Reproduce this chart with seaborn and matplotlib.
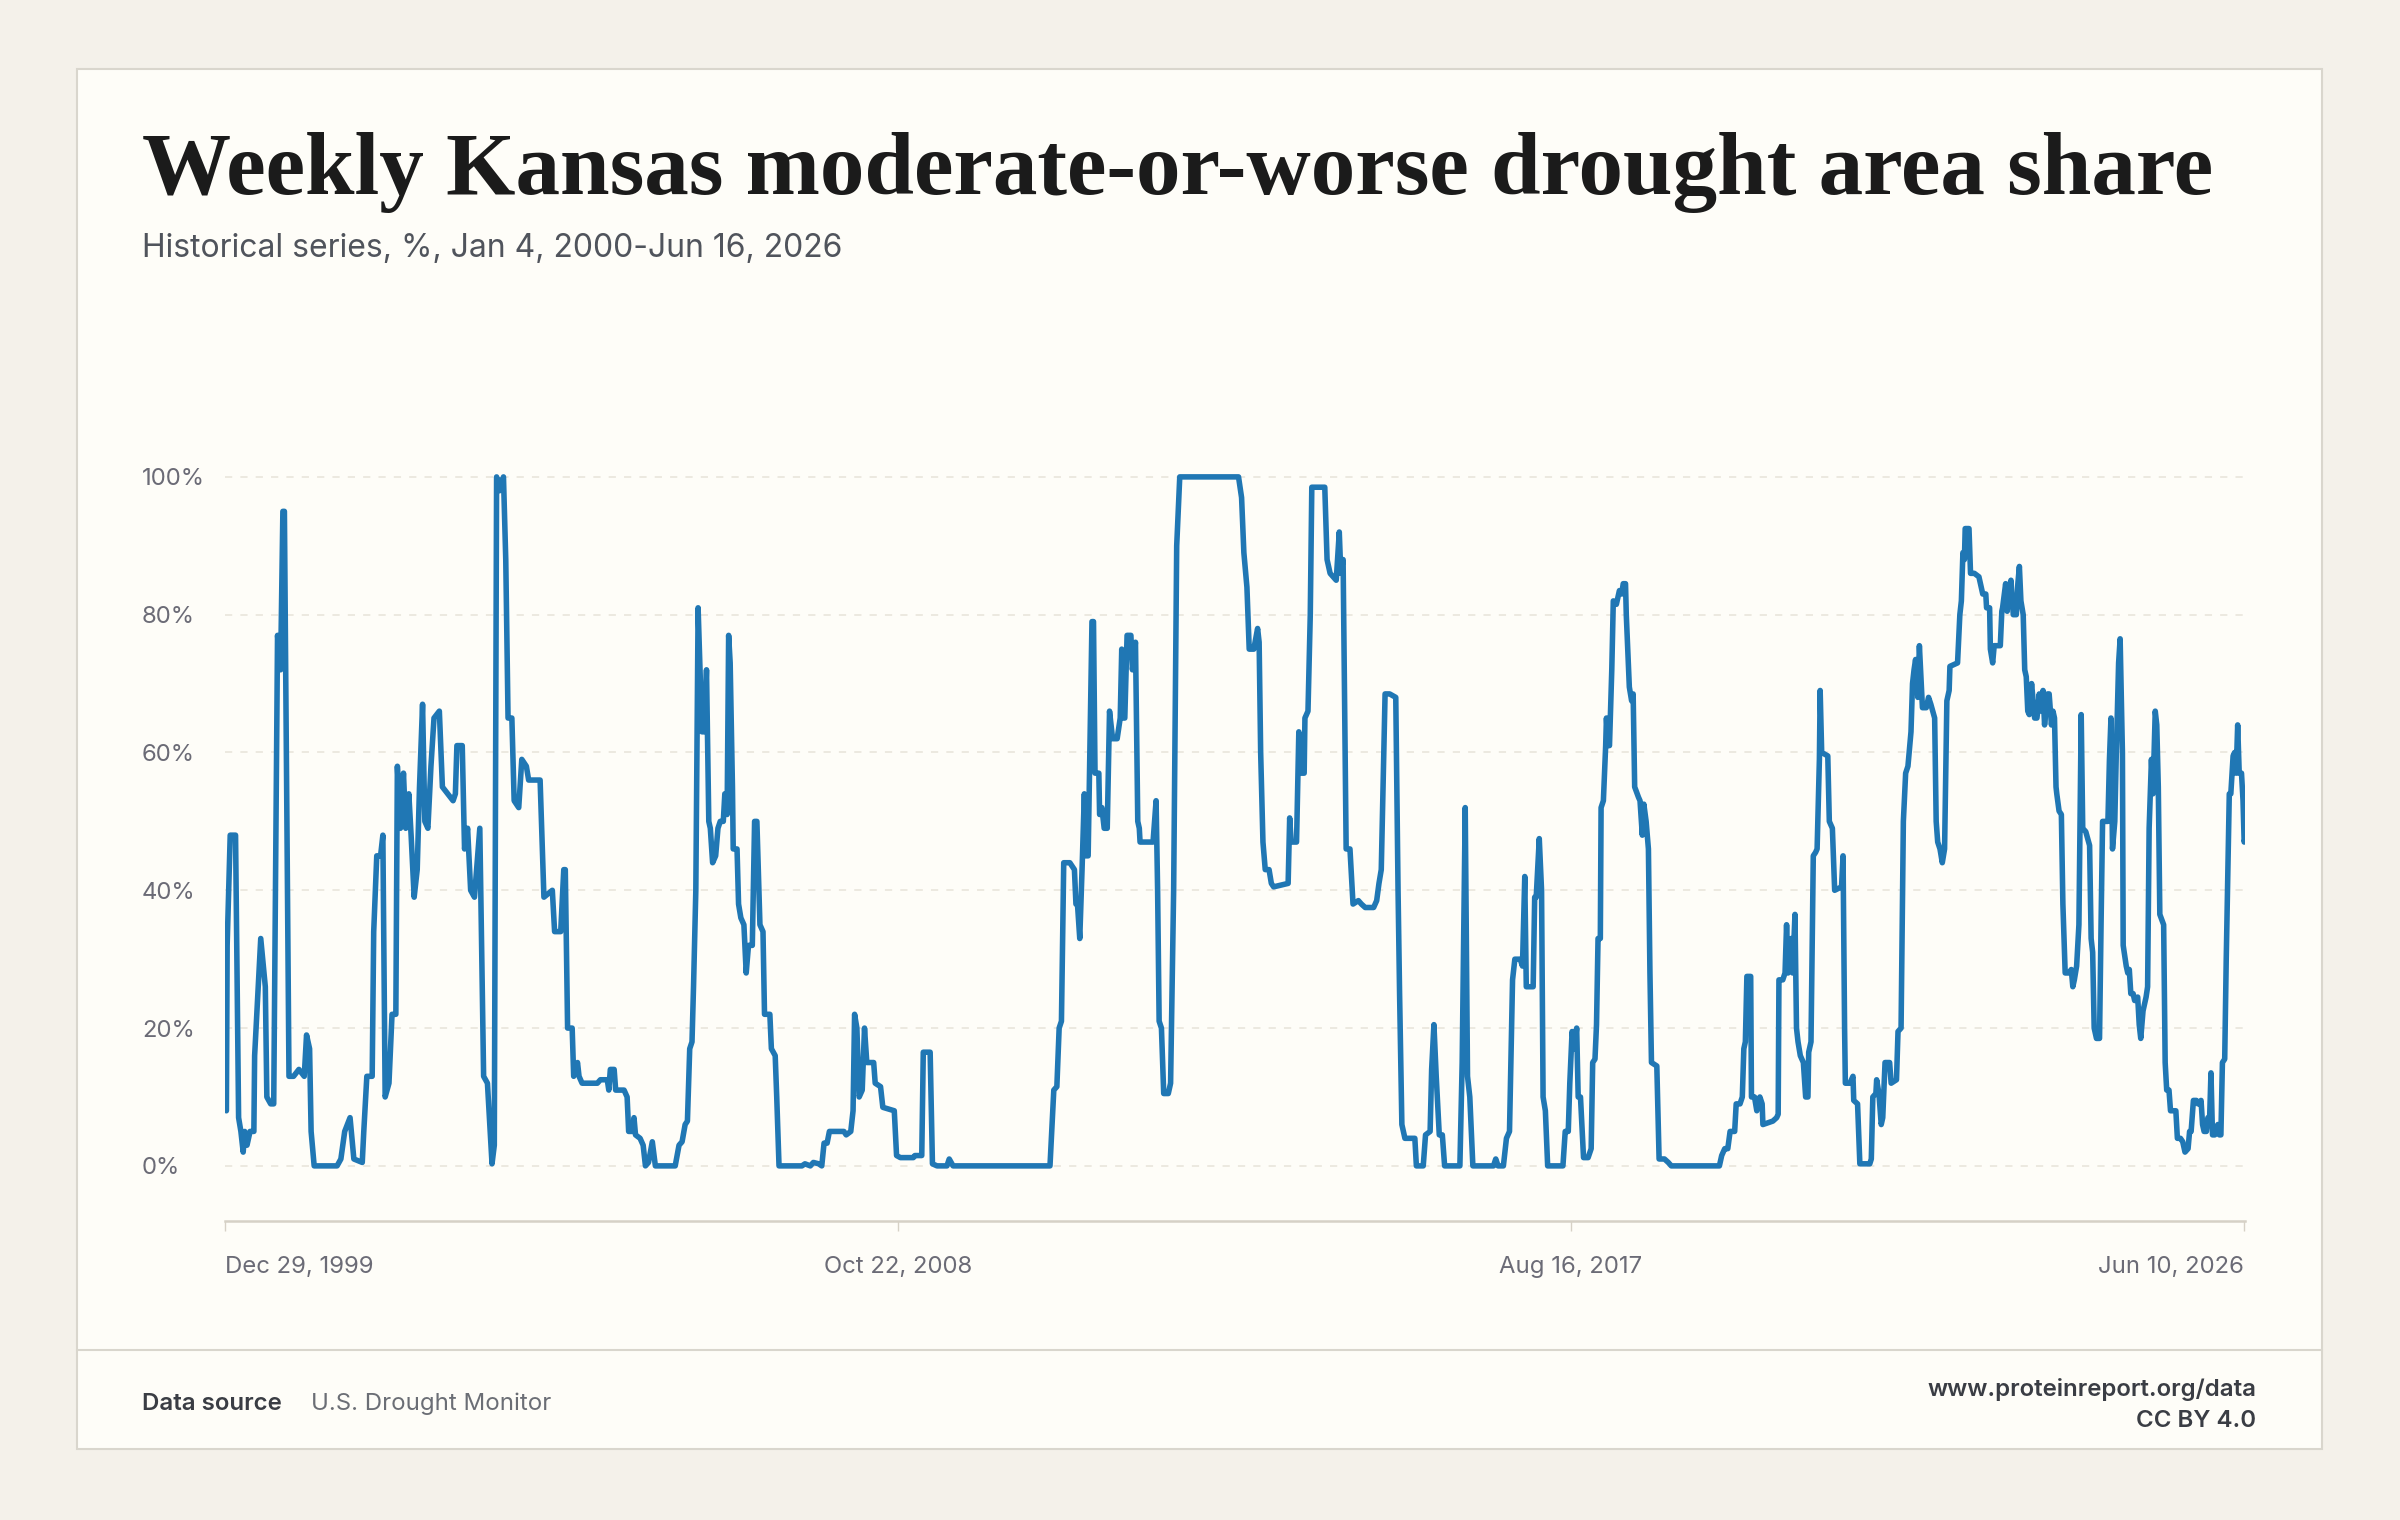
import numpy as np
import pandas as pd
import matplotlib
matplotlib.use("Agg")
import matplotlib.pyplot as plt
import seaborn as sns
from matplotlib.patches import Rectangle
from matplotlib.lines import Line2D

# ---- data (decimal year, % of Kansas area in D1 or worse) ----
years = [
    2000.01, 2000.02, 2000.06, 2000.13, 2000.17, 2000.20, 2000.23, 2000.25, 2000.28, 2000.32,
    2000.37, 2000.38, 2000.46, 2000.52, 2000.54, 2000.59, 2000.63, 2000.68, 2000.72, 2000.75,
    2000.77, 2000.83, 2000.89, 2000.96, 2001.03, 2001.06, 2001.10, 2001.12, 2001.16, 2001.46,
    2001.51, 2001.56, 2001.63, 2001.68, 2001.79, 2001.81, 2001.85, 2001.92, 2001.94, 2001.98,
    2002.03, 2002.06, 2002.09, 2002.14, 2002.18, 2002.23, 2002.25, 2002.29, 2002.33, 2002.36,
    2002.40, 2002.43, 2002.47, 2002.51, 2002.54, 2002.58, 2002.61, 2002.65, 2002.69, 2002.73,
    2002.80, 2002.84, 2002.91, 2002.98, 2003.01, 2003.03, 2003.10, 2003.13, 2003.17, 2003.21,
    2003.26, 2003.33, 2003.38, 2003.43, 2003.49, 2003.52, 2003.55, 2003.59, 2003.64, 2003.67,
    2003.70, 2003.75, 2003.78, 2003.84, 2003.88, 2003.94, 2003.97, 2004.12, 2004.17, 2004.28,
    2004.31, 2004.39, 2004.43, 2004.45, 2004.48,
    2004.54, 2004.56, 2004.61, 2004.63, 2004.67, 2004.78, 2004.87, 2004.91, 2005.00, 2005.02,
    2005.04, 2005.09, 2005.11, 2005.22, 2005.26, 2005.28, 2005.33, 2005.35, 2005.37, 2005.43,
    2005.47, 2005.50, 2005.54, 2005.59, 2005.63, 2005.89, 2005.94, 2005.98, 2006.02, 2006.05,
    2006.08, 2006.11, 2006.13, 2006.16, 2006.19, 2006.22, 2006.24, 2006.27, 2006.30, 2006.33,
    2006.35, 2006.38, 2006.42, 2006.45, 2006.48, 2006.52, 2006.54, 2006.57, 2006.59, 2006.61,
    2006.64, 2006.65, 2006.70, 2006.72, 2006.75, 2006.79, 2006.82, 2006.85, 2006.90, 2006.93,
    2006.96, 2007.00, 2007.04, 2007.06, 2007.13, 2007.15, 2007.20, 2007.22, 2007.25, 2007.55,
    2007.59, 2007.66, 2007.70, 2007.77, 2007.81, 2007.84, 2007.88, 2007.91, 2008.10, 2008.13,
    2008.19, 2008.22, 2008.24, 2008.27, 2008.30, 2008.34, 2008.37, 2008.40, 2008.49, 2008.51,
    2008.58, 2008.61, 2008.76, 2008.79, 2008.84,
    2009.01, 2009.03, 2009.12, 2009.14, 2009.23, 2009.26, 2009.32, 2009.45, 2009.48, 2009.53,
    2010.80, 2010.85, 2010.89, 2010.92, 2010.95, 2010.98, 2011.06, 2011.12, 2011.14, 2011.16,
    2011.19, 2011.22, 2011.25, 2011.27, 2011.30, 2011.35, 2011.37, 2011.39, 2011.44, 2011.45,
    2011.48, 2011.51, 2011.55, 2011.58, 2011.62, 2011.68, 2011.72, 2011.74, 2011.76, 2011.78,
    2011.81, 2011.86, 2011.88, 2011.92, 2011.95, 2011.97, 2011.98, 2012.15, 2012.19, 2012.21,
    2012.23, 2012.26, 2012.29, 2012.35, 2012.38, 2012.42, 2012.46, 2012.50, 2013.27, 2013.31,
    2013.34, 2013.38, 2013.41,
    2013.47, 2013.52, 2013.54, 2013.56, 2013.59, 2013.62, 2013.67, 2013.70, 2013.73, 2013.92,
    2013.94, 2013.96, 2014.03, 2014.06, 2014.09, 2014.13, 2014.14, 2014.18, 2014.21, 2014.23,
    2014.40, 2014.43, 2014.47, 2014.55, 2014.59, 2014.61, 2014.64, 2014.68, 2014.73, 2014.77,
    2014.84, 2014.88, 2014.93, 2015.04, 2015.08, 2015.11, 2015.14, 2015.19, 2015.25, 2015.33,
    2015.36, 2015.38, 2015.41, 2015.45, 2015.58, 2015.60, 2015.69, 2015.72, 2015.78, 2015.80,
    2015.83, 2015.86, 2015.90, 2015.94, 2015.97, 2016.17, 2016.20, 2016.24, 2016.27, 2016.30,
    2016.34, 2016.61, 2016.64, 2016.67, 2016.74, 2016.78, 2016.82, 2016.86, 2016.89, 2016.96,
    2016.99, 2017.02, 2017.04, 2017.13, 2017.15, 2017.17, 2017.21, 2017.24, 2017.26, 2017.29,
    2017.32, 2017.52, 2017.55, 2017.59, 2017.61, 2017.64, 2017.67, 2017.70, 2017.72, 2017.75,
    2017.79, 2017.85, 2017.89,
    2017.91, 2017.94, 2017.96, 2017.98, 2018.01, 2018.02, 2018.05, 2018.08, 2018.09, 2018.11,
    2018.13, 2018.16, 2018.18, 2018.22, 2018.26, 2018.29, 2018.31, 2018.34, 2018.35, 2018.39,
    2018.42, 2018.44, 2018.46, 2018.51, 2018.53, 2018.56, 2018.58, 2018.61, 2018.64, 2018.66,
    2018.68, 2018.75, 2018.78, 2018.85, 2018.90, 2018.94, 2019.57, 2019.60, 2019.64, 2019.68,
    2019.71, 2019.77, 2019.79, 2019.84, 2019.87, 2019.89, 2019.91, 2019.93, 2019.98, 2019.99,
    2020.03, 2020.06, 2020.10, 2020.13, 2020.14, 2020.27, 2020.32, 2020.34, 2020.35, 2020.40,
    2020.43, 2020.45, 2020.47, 2020.50, 2020.51, 2020.53, 2020.56, 2020.58, 2020.60, 2020.63,
    2020.67, 2020.70, 2020.73, 2020.74, 2020.77, 2020.80, 2020.83, 2020.85, 2020.88, 2020.89,
    2020.91, 2020.99, 2021.01, 2021.05, 2021.08, 2021.17, 2021.19, 2021.21, 2021.22, 2021.28,
    2021.32, 2021.33, 2021.38, 2021.41, 2021.54, 2021.56, 2021.58, 2021.62, 2021.63, 2021.66,
    2021.69, 2021.71, 2021.74, 2021.80, 2021.82, 2021.89, 2021.91, 2021.95, 2021.98, 2022.01,
    2022.04, 2022.08, 2022.10, 2022.12, 2022.14, 2022.17, 2022.19,
    2022.23, 2022.28, 2022.31, 2022.34, 2022.39, 2022.41, 2022.43, 2022.46, 2022.49, 2022.52,
    2022.55, 2022.58, 2022.59, 2022.69, 2022.72, 2022.74, 2022.76, 2022.78, 2022.79, 2022.84,
    2022.86, 2022.91, 2022.97, 2023.00, 2023.02, 2023.06, 2023.07, 2023.11, 2023.12, 2023.15,
    2023.17, 2023.25, 2023.27, 2023.28, 2023.32, 2023.34, 2023.36, 2023.39, 2023.42, 2023.46,
    2023.48, 2023.50, 2023.52, 2023.55, 2023.57, 2023.59, 2023.61, 2023.63, 2023.66, 2023.70,
    2023.73, 2023.74, 2023.76, 2023.79, 2023.81, 2023.83, 2023.85, 2023.87, 2023.89, 2023.92,
    2023.94, 2023.96, 2023.98, 2023.99, 2024.02, 2024.05, 2024.07, 2024.10, 2024.15, 2024.18,
    2024.20, 2024.22, 2024.25, 2024.28, 2024.31, 2024.33, 2024.37, 2024.42, 2024.44, 2024.46,
    2024.48, 2024.51, 2024.55, 2024.57, 2024.59, 2024.66, 2024.68, 2024.70, 2024.72, 2024.75,
    2024.77, 2024.80, 2024.82, 2024.85, 2024.86, 2024.90, 2024.92, 2024.94, 2024.96, 2024.99,
    2025.01, 2025.05, 2025.07, 2025.09, 2025.12, 2025.16, 2025.18, 2025.20, 2025.23, 2025.25,
    2025.28, 2025.30, 2025.32, 2025.34, 2025.39, 2025.41, 2025.43, 2025.46, 2025.48, 2025.55,
    2025.57, 2025.61, 2025.64, 2025.67, 2025.71, 2025.73, 2025.75, 2025.78, 2025.82, 2025.84,
    2025.86, 2025.88, 2025.90, 2025.92, 2025.95, 2025.97, 2025.99, 2026.01, 2026.03, 2026.06,
    2026.08, 2026.10, 2026.12, 2026.14, 2026.16, 2026.19, 2026.21, 2026.25, 2026.27, 2026.30,
    2026.32, 2026.34, 2026.36, 2026.38, 2026.41, 2026.43, 2026.445, 2026.455,
]

share = [
    8, 32, 48, 48, 7, 5, 2, 5, 3, 5,
    5, 16, 33, 26, 10, 9, 9, 77, 72, 95,
    95, 13, 13, 14, 13, 19, 17, 5, 0, 0,
    1, 5, 7, 1, 0.5, 5, 13, 13, 34, 45,
    45, 48, 10, 12, 22, 22, 58, 49, 57, 49,
    54, 48, 39, 43, 55, 67, 50, 49, 58, 65,
    66, 55, 54, 53, 54, 61, 61, 46, 49, 40,
    39, 49, 13, 12, 0.3, 3, 100, 98, 100, 88,
    65, 65, 53, 52, 59, 58, 56, 56, 39, 40,
    34, 34, 43, 43, 20,
    20, 13, 15, 13, 12, 12, 12, 12.5, 12.5, 11,
    14, 14, 11, 11, 10, 5, 5, 7, 4.5, 4,
    3, 0, 0.5, 3.5, 0, 0, 3, 3.5, 6, 6.5,
    17, 18, 26, 40, 81, 70, 63, 63, 72, 50,
    49, 44, 45, 49, 50, 50, 54, 51, 77, 73,
    55, 46, 46, 38, 36, 35, 28, 32, 32, 50,
    50, 35, 34, 22, 22, 17, 16, 10, 0, 0,
    0.3, 0, 0.5, 0.3, 0, 3.3, 3.3, 5, 5, 4.5,
    5, 8, 22, 20, 10, 11, 20, 15, 15, 12,
    11.5, 8.5, 8, 1.5, 1.2,
    1.2, 1.5, 1.5, 16.5, 16.5, 0.3, 0, 0, 1, 0,
    0, 11, 11.5, 20, 21, 44, 44, 43, 38, 38,
    33, 43, 54, 45, 45, 79, 79, 57, 57, 51,
    52, 49, 49, 66, 62, 62, 65, 75, 65, 65,
    77, 77, 72, 76, 50, 49, 47, 47, 53, 40,
    21, 20, 10.5, 10.5, 12, 40, 90, 100, 100, 97,
    89, 84, 75,
    75, 78, 76, 60, 47, 43, 43, 41, 40.5, 41,
    50.5, 47, 47, 63, 57, 57, 65, 66, 80, 98.5,
    98.5, 88, 86, 85, 92, 86, 88, 46, 46, 38,
    38.5, 38, 37.5, 37.5, 38.5, 41, 43, 68.5, 68.5, 68,
    40, 25, 6, 4, 4, 0, 0, 4.5, 5, 14,
    20.5, 13, 4.5, 4.5, 0, 0, 15, 52, 13, 10,
    0, 0, 1, 0, 0, 4, 5, 27, 30, 30,
    29, 42, 26, 26, 39, 39, 47.5, 40, 10, 8,
    0, 0, 5, 5, 12, 19.5, 17, 20, 10, 10,
    1.2, 1.2, 2.5,
    15, 15.5, 20.5, 33, 33, 52, 53, 61, 65, 61,
    61, 72, 82, 81.5, 83.5, 83, 84.5, 84.5, 80, 69.5,
    67.5, 68.5, 55, 53.5, 53, 48, 52.5, 50, 46, 28,
    15, 14.5, 1, 1, 0.5, 0, 0, 1.5, 2.5, 2.5,
    5, 5, 9, 9, 10, 17, 18, 27.5, 27.5, 10,
    10, 8, 10, 9, 6, 6.5, 7, 7.5, 27, 27,
    28, 35, 28, 29, 33, 28, 36.5, 20, 18, 16,
    15, 10, 10, 16.5, 18, 45, 45.5, 46, 59, 69,
    60, 59.5, 50, 49, 40, 40.5, 45, 20, 12, 12,
    13, 9.5, 9, 0.3, 0.3, 1, 10, 10.5, 12.5, 10.5,
    6, 7, 15, 15, 12, 12.5, 19.5, 20, 50, 57,
    58, 63, 70, 72, 73.5, 68, 75.5,
    66.5, 66.5, 68, 67, 65, 50, 47, 46, 44, 46,
    67.5, 69, 72.5, 73, 80, 82, 89, 88, 92.5, 92.5,
    86, 86, 85.5, 84, 83, 83, 81, 81, 75, 73,
    75.5, 75.5, 80.5, 81, 84.5, 80.5, 83.5, 85, 80, 80,
    84.5, 87, 82, 80, 72, 71, 66, 65.5, 70, 65,
    65, 66, 68.5, 66, 69, 64, 66.5, 68.5, 68.5, 64,
    66, 65, 55, 54, 51.5, 51, 38, 28, 28, 28.5,
    26, 27, 29, 35, 65.5, 49, 48.5, 46.5, 33, 31,
    20, 18.5, 18.5, 35, 50, 50, 59, 65, 46, 50,
    60, 73, 76.5, 60, 32, 29, 28, 28.5, 25, 25,
    24, 24.5, 20.5, 18.5, 22.5, 24.5, 26, 49, 59, 54,
    66, 64, 55, 36.5, 35, 15, 11, 11, 8, 8,
    4, 4, 3.5, 2, 2.5, 5, 5, 9.5, 9.5, 9,
    9, 9.5, 6, 5, 5, 7, 6, 13.5, 4.5, 4.5,
    5.5, 6, 4.5, 4.5, 15, 15.5, 30, 54, 54, 59.5,
    60, 57, 64, 57, 57, 53, 47, 47.5,
]

tick_dates = ["1999-12-29", "2008-10-22", "2017-08-16", "2026-06-10"]
tick_labels = ["Dec 29, 1999", "Oct 22, 2008", "Aug 16, 2017", "Jun 10, 2026"]
y_ticks = [0, 20, 40, 60, 80, 100]
y_tick_labels = ["0%", "20%", "40%", "60%", "80%", "100%"]

title = "Weekly Kansas moderate-or-worse drought area share"
subtitle = "Historical series, %, Jan 4, 2000-Jun 16, 2026"

# decimal year -> calendar date
dates = [pd.Timestamp("2000-01-01") + pd.Timedelta(days=(y - 2000) * 365.25) for y in years]
df = pd.DataFrame({"date": dates, "share": share})

# ---- styling ----
sns.set_theme(style="white")
plt.rcParams["font.family"] = ["Inter", "DejaVu Sans"]

W, H = 2400, 1520
fig = plt.figure(figsize=(24, 15.2), dpi=100, facecolor="#f4f1ea")

def fx(px):
    return px / W

def fy(py):
    return 1 - py / H

# card + footer divider (drawn beneath the axes)
fig.patches.append(Rectangle((fx(77), fy(1449)), fx(2322) - fx(77), fy(69) - fy(1449),
                             transform=fig.transFigure, facecolor="#fefdf8",
                             edgecolor="#d9d6cd", lw=1.5, zorder=-5))
fig.lines.append(Line2D([fx(77), fx(2322)], [fy(1350), fy(1350)], transform=fig.transFigure,
                        color="#d9d6cd", lw=1.5, zorder=-4))

ax = fig.add_axes([fx(225), fy(1221), fx(2245) - fx(225), fy(470) - fy(1221)])
ax.set_facecolor("none")
ax.set_zorder(2)

for yv in y_ticks:
    ax.axhline(yv, color="#ebe7de", lw=1.3, ls=(0, (4, 4.5)), zorder=0)

sns.lineplot(data=df, x="date", y="share", ax=ax, color="#2077b4", linewidth=4.0,
             estimator=None, sort=False, zorder=3)
for ln in ax.lines:
    if ln.get_color() == "#2077b4":
        ln.set_solid_capstyle("round")
        ln.set_solid_joinstyle("round")

ax.set_xlim(pd.Timestamp("1999-12-29"), pd.Timestamp("2026-06-16"))
ax.set_ylim(-8, 101)
ax.set_xlabel("")
ax.set_ylabel("")

for s in ["top", "right", "left"]:
    ax.spines[s].set_visible(False)
ax.spines["bottom"].set_color("#d6d1c6")
ax.spines["bottom"].set_linewidth(1.8)

ax.set_xticks([pd.Timestamp(d) for d in tick_dates])
ax.set_xticklabels(tick_labels)
ax.tick_params(axis="x", length=7, width=1, color="#d6d1c6", pad=18,
               labelsize=17.2, labelcolor="#6b6b76", bottom=True)
xt = ax.get_xticklabels()
xt[0].set_ha("left")
xt[-1].set_ha("right")

ax.set_yticks(y_ticks)
ax.set_yticklabels(y_tick_labels)
ax.tick_params(axis="y", length=0, pad=(225 - 142) * 72 / 100, labelsize=17.2,
               labelcolor="#6b6b76")
for t in ax.get_yticklabels():
    t.set_ha("left")

# ---- text ----
fig.text(fx(142), fy(194), title, family=["Liberation Serif", "DejaVu Serif"],
         weight="bold", fontsize=64.2, color="#1b1b1b", va="baseline", ha="left")
fig.text(fx(142), fy(257), subtitle, fontsize=23, color="#50545c", va="baseline", ha="left")

fig.text(fx(142), fy(1410), "Data source", fontsize=17.3, weight="semibold",
         color="#3a3d44", va="baseline", ha="left")
fig.text(fx(311), fy(1410), "U.S. Drought Monitor", fontsize=17.3,
         color="#6b6e75", va="baseline", ha="left")
fig.text(fx(2256), fy(1396), "www.proteinreport.org/data", fontsize=17.3, weight="semibold",
         color="#3a3d44", va="baseline", ha="right")
fig.text(fx(2256), fy(1427), "CC BY 4.0", fontsize=17.3, weight="semibold",
         color="#3a3d44", va="baseline", ha="right")

fig.savefig("out.png", dpi=100, facecolor=fig.get_facecolor())
